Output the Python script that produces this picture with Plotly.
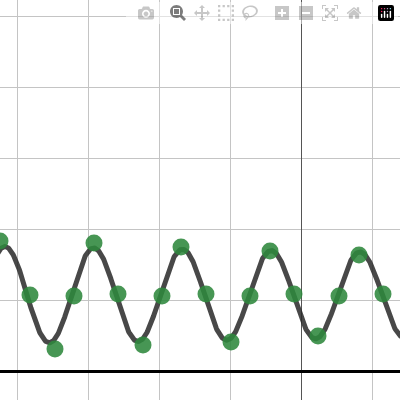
import numpy as np
import plotly.graph_objects as go

# scatter points (data units)
px_x = [0,30,55,74,94,118,143,162,181,206,231,250,270,294,318,339,359,383]
px_y = [241,295,349,296,243,294,345,296,247,294,342,296,251,294,336,296,255,294]
pts_x = [(p-301)/71 for p in px_x]
pts_y = [(371-p)/71 for p in px_y]

# fitted curve parameters
center = 1.07
period = 1.25
peak_x = 0.83
amp0 = 0.62
amp_slope = -0.015

xs = np.linspace(-4.3, 1.45, 800)
ys = center + (amp0 + amp_slope*xs) * np.cos(2*np.pi*(xs-peak_x)/period)

fig = go.Figure()
fig.add_trace(go.Scatter(x=xs, y=ys, mode="lines",
                         line=dict(color="rgba(40,40,40,0.85)", width=5), hoverinfo="skip"))
fig.add_trace(go.Scatter(x=pts_x, y=pts_y, mode="markers",
                         marker=dict(color="rgba(45,135,60,0.88)", size=17, line=dict(width=0))))
ax = dict(showgrid=True, gridcolor="#c4c4c4", gridwidth=1, dtick=1, zeroline=True,
          showticklabels=False, ticks="")
fig.update_layout(width=400, height=400, margin=dict(l=0, r=0, t=0, b=0),
                  plot_bgcolor="white", paper_bgcolor="white", showlegend=False,
                  xaxis=dict(range=[-301/71, 99/71], **ax, zerolinewidth=1, zerolinecolor="#555"),
                  yaxis=dict(range=[-29/71, 371/71], **ax, zerolinewidth=3, zerolinecolor="black"))
fig.write_html("out.html", post_script="document.body.style.margin='0';document.body.style.padding='0';")
